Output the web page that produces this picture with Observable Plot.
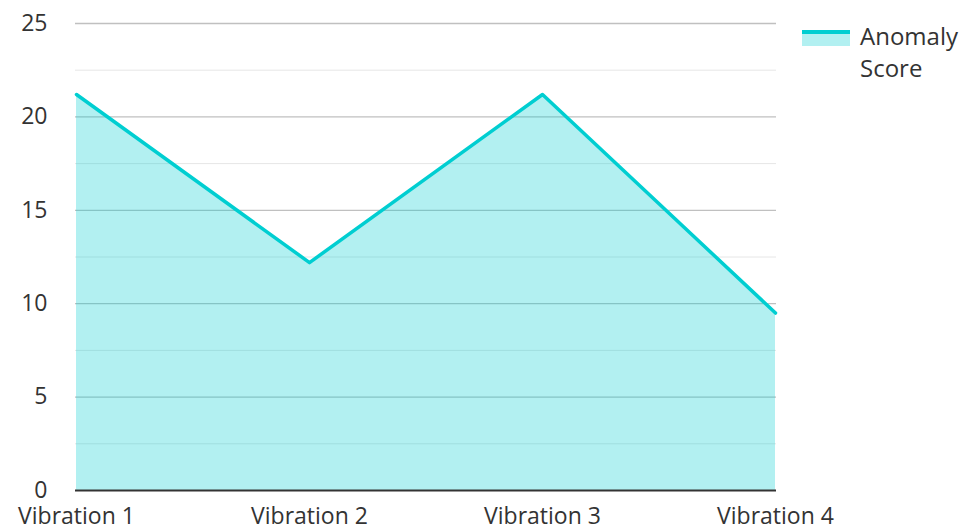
<!DOCTYPE html>
<html>
<head>
<meta charset="utf-8">
<script src="https://cdn.jsdelivr.net/npm/d3@7"></script>
<script src="https://cdn.jsdelivr.net/npm/@observablehq/plot@0.6"></script>
<style>
  html, body { margin: 0; padding: 0; background: #fff; }
  #wrap { position: relative; width: 966px; height: 531px; font-family: "Open Sans", sans-serif; }
  #legend { position: absolute; left: 802px; top: 20px; width: 164px; display: flex; align-items: flex-start; color: #333; font-size: 24px; line-height: 32px; }
  #legend .sw { width: 48px; height: 16px; margin-top: 10px; margin-right: 10px; background: rgba(0,206,209,0.3); border-top: 4px solid #00CED1; box-sizing: border-box; flex: none; }
  #legend .lbl { width: 104px; }
</style>
</head>
<body>
<div id="wrap">
  <div id="chart"></div>
  <div id="legend"><div class="sw"></div><div class="lbl">Anomaly Score</div></div>
</div>
<script>
const categories = ["Vibration 1", "Vibration 2", "Vibration 3", "Vibration 4"];
const anomalyScore = [21.2, 12.2, 21.2, 9.5];
const majorTicks = [0, 5, 10, 15, 20, 25];
const minorTicks = [2.5, 7.5, 12.5, 17.5, 22.5];
const seriesName = "Anomaly Score";

const data = categories.map((c, i) => ({ category: c, value: anomalyScore[i] }));

const chart = Plot.plot({
  width: 966,
  height: 531,
  marginLeft: 75,
  marginRight: 190,
  marginTop: 23,
  marginBottom: 41,
  style: { fontFamily: "Open Sans, sans-serif", fontSize: "23px", color: "#333", background: "#fff" },
  x: { type: "point", domain: categories, padding: 0, label: null },
  y: { domain: [0, 25], label: null },
  marks: [
    Plot.ruleY(minorTicks, { stroke: "#e6e6e6", strokeWidth: 1 }),
    Plot.ruleY(majorTicks.filter(d => d > 0), { stroke: "#c0c0c0", strokeWidth: 1.3 }),
    Plot.areaY(data, { x: "category", y: "value", fill: "#00CED1", fillOpacity: 0.3 }),
    Plot.lineY(data, { x: "category", y: "value", stroke: "#00CED1", strokeWidth: 3.5 }),
    Plot.ruleY([0], { stroke: "#333", strokeWidth: 2 }),
    Plot.axisY(majorTicks, { tickSize: 0, tickPadding: 28, fontSize: 23, fill: "#333" }),
    Plot.axisX({ tickSize: 0, tickPadding: 17, fontSize: 23, fill: "#333" })
  ]
});
document.getElementById("chart").appendChild(chart);
</script>
</body>
</html>
